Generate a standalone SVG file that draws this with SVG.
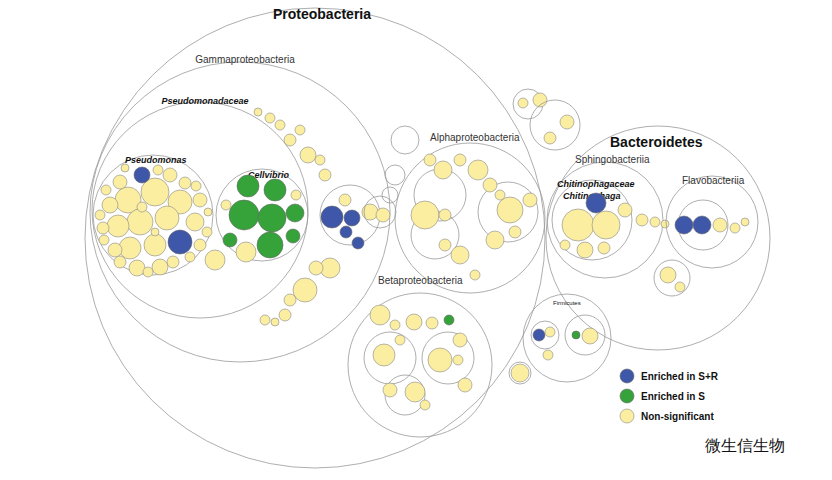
<svg xmlns="http://www.w3.org/2000/svg" width="832" height="480" viewBox="0 0 832 480">
<style>
.o{fill:none;stroke:#999;stroke-width:0.8}
.y{fill:#fbeea0;stroke:#888;stroke-width:0.6}
.b{fill:#3f57a8;stroke:#666;stroke-width:0.6}
.g{fill:#36a23a;stroke:#666;stroke-width:0.6}
.t{font-family:"Liberation Sans",Arial,sans-serif;fill:#111}
.big{font-size:14px;font-weight:bold}
.mid{font-size:10px;fill:#333}
.it{font-size:9px;font-weight:bold;font-style:italic}
</style>
<rect width="832" height="480" fill="#fff"/>
<g id="proteobacteria">
<circle class="o" cx="315" cy="238" r="230"/>
<text class="t big" x="322" y="19" text-anchor="middle">Proteobacteria</text>
</g>
<g id="gammaproteobacteria">
<circle class="o" cx="240" cy="212" r="150"/>
<text class="t mid" x="245" y="63" text-anchor="middle">Gammaproteobacteria</text>
</g>
<g id="pseudomonadaceae">
<circle class="o" cx="200" cy="210" r="108"/>
<text class="t it" x="205" y="104" text-anchor="middle">Pseudomonadaceae</text>
</g>
<g id="pseudomonas">
<circle class="o" cx="153" cy="215" r="60"/>
<text class="t it" x="125" y="163">Pseudomonas</text>
<circle class="y" cx="155" cy="192" r="14"/><circle class="y" cx="128" cy="200" r="13"/><circle class="y" cx="180" cy="202" r="12"/>
<circle class="y" cx="140" cy="222" r="13"/><circle class="y" cx="167" cy="218" r="12"/><circle class="y" cx="118" cy="226" r="11"/>
<circle class="y" cx="130" cy="248" r="11"/><circle class="y" cx="155" cy="245" r="11"/><circle class="y" cx="195" cy="222" r="9"/>
<circle class="y" cx="110" cy="205" r="8"/><circle class="y" cx="160" cy="267" r="8"/><circle class="y" cx="137" cy="268" r="8"/>
<circle class="y" cx="115" cy="250" r="7"/><circle class="y" cx="200" cy="200" r="7"/><circle class="y" cx="170" cy="175" r="7"/>
<circle class="y" cx="120" cy="182" r="7"/><circle class="y" cx="200" cy="245" r="6"/><circle class="y" cx="103" cy="228" r="6"/>
<circle class="y" cx="185" cy="183" r="6"/><circle class="y" cx="196" cy="186" r="5"/><circle class="y" cx="158" cy="170" r="5"/>
<circle class="y" cx="125" cy="168" r="4"/><circle class="y" cx="106" cy="190" r="5"/><circle class="y" cx="100" cy="215" r="5"/>
<circle class="y" cx="104" cy="240" r="5"/><circle class="y" cx="120" cy="262" r="6"/><circle class="y" cx="148" cy="272" r="5"/>
<circle class="y" cx="173" cy="262" r="6"/><circle class="y" cx="190" cy="257" r="5"/><circle class="y" cx="207" cy="232" r="5"/>
<circle class="y" cx="208" cy="212" r="4"/><circle class="y" cx="142" cy="207" r="5"/><circle class="y" cx="155" cy="232" r="4"/>
<circle class="b" cx="142" cy="175" r="8"/><circle class="b" cx="180" cy="242" r="12"/>
</g>
<g id="cellvibrio">
<circle class="o" cx="262" cy="215" r="46"/>
<text class="t it" x="248" y="178">Cellvibrio</text>
<circle class="g" cx="248" cy="186" r="11"/><circle class="g" cx="275" cy="190" r="11"/><circle class="g" cx="244" cy="215" r="15"/>
<circle class="g" cx="272" cy="218" r="14"/><circle class="g" cx="295" cy="213" r="9"/><circle class="g" cx="270" cy="245" r="13"/>
<circle class="g" cx="230" cy="240" r="7"/><circle class="y" cx="246" cy="252" r="10"/><circle class="g" cx="293" cy="236" r="7"/>
<circle class="y" cx="226" cy="205" r="5"/><circle class="y" cx="296" cy="195" r="5"/>
</g>
<g id="gamma-others">
<circle class="y" cx="215" cy="260" r="10"/><circle class="y" cx="305" cy="290" r="12"/><circle class="y" cx="330" cy="268" r="10"/>
<circle class="y" cx="316" cy="268" r="7"/><circle class="y" cx="290" cy="300" r="6"/>
<circle class="y" cx="308" cy="155" r="8"/><circle class="y" cx="290" cy="140" r="6"/><circle class="y" cx="325" cy="175" r="6"/>
<circle class="y" cx="300" cy="130" r="5"/><circle class="y" cx="280" cy="125" r="5"/><circle class="y" cx="320" cy="160" r="5"/>
<circle class="y" cx="285" cy="315" r="6"/><circle class="y" cx="265" cy="320" r="5"/><circle class="y" cx="270" cy="118" r="5"/>
<circle class="y" cx="258" cy="112" r="4"/><circle class="y" cx="275" cy="322" r="4"/>
<circle class="o" cx="350" cy="215" r="30"/>
<circle class="b" cx="332" cy="217" r="11"/><circle class="b" cx="352" cy="218" r="8"/><circle class="b" cx="346" cy="232" r="6"/>
<circle class="b" cx="358" cy="243" r="6"/><circle class="y" cx="370" cy="212" r="8"/><circle class="y" cx="345" cy="200" r="6"/>
<circle class="o" cx="380" cy="212" r="16"/><circle class="y" cx="383" cy="215" r="7"/>
</g>
<g id="alphaproteobacteria">
<circle class="o" cx="470" cy="218" r="75"/>
<text class="t mid" x="430" y="141">Alphaproteobacteria</text>
<circle class="o" cx="440" cy="195" r="26"/><circle class="o" cx="508" cy="212" r="30"/><circle class="o" cx="435" cy="235" r="24"/>
<circle class="y" cx="425" cy="215" r="14"/><circle class="y" cx="510" cy="210" r="13"/><circle class="y" cx="443" cy="170" r="9"/>
<circle class="y" cx="478" cy="170" r="10"/><circle class="y" cx="460" cy="255" r="9"/><circle class="y" cx="495" cy="240" r="9"/>
<circle class="y" cx="530" cy="200" r="7"/><circle class="y" cx="490" cy="185" r="7"/><circle class="y" cx="445" cy="215" r="6"/>
<circle class="y" cx="430" cy="160" r="6"/><circle class="y" cx="460" cy="160" r="6"/><circle class="y" cx="515" cy="232" r="6"/>
<circle class="y" cx="500" cy="195" r="5"/><circle class="y" cx="445" cy="245" r="6"/><circle class="y" cx="475" cy="275" r="5"/>
<circle class="o" cx="405" cy="140" r="14"/><circle class="o" cx="395" cy="175" r="10"/><circle class="o" cx="390" cy="195" r="8"/>
</g>
<g id="betaproteobacteria">
<circle class="o" cx="420" cy="365" r="72"/>
<text class="t mid" x="378" y="284">Betaproteobacteria</text>
<circle class="o" cx="390" cy="358" r="26"/><circle class="o" cx="448" cy="358" r="26"/><circle class="o" cx="405" cy="395" r="20"/>
<circle class="y" cx="380" cy="315" r="10"/><circle class="y" cx="414" cy="322" r="8"/><circle class="y" cx="384" cy="355" r="11"/>
<circle class="y" cx="440" cy="360" r="12"/><circle class="y" cx="415" cy="392" r="10"/><circle class="y" cx="460" cy="340" r="7"/>
<circle class="y" cx="390" cy="390" r="7"/><circle class="y" cx="432" cy="323" r="6"/><circle class="g" cx="449" cy="320" r="5"/>
<circle class="y" cx="465" cy="385" r="7"/><circle class="y" cx="400" cy="340" r="5"/><circle class="y" cx="458" cy="360" r="5"/>
<circle class="y" cx="395" cy="325" r="5"/><circle class="y" cx="425" cy="405" r="5"/>
</g>
<g id="top-middle">
<circle class="o" cx="528" cy="104" r="15"/><circle class="y" cx="540" cy="100" r="7"/><circle class="y" cx="523" cy="103" r="5"/>
<circle class="o" cx="555" cy="125" r="25"/><circle class="y" cx="567" cy="122" r="7"/><circle class="y" cx="550" cy="138" r="6"/>
<circle class="o" cx="520" cy="373" r="11"/><circle class="y" cx="520" cy="373" r="9"/>
</g>
<g id="bacteroidetes">
<circle class="o" cx="658" cy="238" r="112"/>
<text class="t big" x="610" y="147">Bacteroidetes</text>
</g>
<g id="sphingobacteriia">
<circle class="o" cx="605" cy="220" r="58"/>
<text class="t mid" x="575" y="163">Sphingobacteriia</text>
<circle class="o" cx="592" cy="220" r="40"/>
<text class="t it" x="557" y="187">Chitinophagaceae</text>
<text class="t it" x="563" y="199">Chitinophaga</text>
<circle class="y" cx="578" cy="225" r="16"/><circle class="y" cx="606" cy="225" r="14"/><circle class="b" cx="596" cy="203" r="10"/>
<circle class="y" cx="585" cy="250" r="8"/><circle class="y" cx="625" cy="210" r="7"/><circle class="y" cx="642" cy="220" r="6"/>
<circle class="y" cx="655" cy="222" r="5"/><circle class="y" cx="665" cy="224" r="4"/>
<circle class="y" cx="604" cy="248" r="6"/><circle class="y" cx="565" cy="245" r="5"/>
</g>
<g id="flavobacteriia">
<circle class="o" cx="712" cy="222" r="46"/>
<text class="t mid" x="682" y="184">Flavobacteriia</text>
<circle class="o" cx="703" cy="225" r="25"/>
<circle class="b" cx="684" cy="225" r="9"/><circle class="b" cx="702" cy="225" r="9"/><circle class="y" cx="720" cy="225" r="7"/>
<circle class="y" cx="735" cy="228" r="5"/><circle class="y" cx="745" cy="222" r="4"/>
<circle class="o" cx="672" cy="278" r="18"/><circle class="y" cx="668" cy="275" r="8"/><circle class="y" cx="680" cy="287" r="5"/>
</g>
<g id="firmicutes">
<circle class="o" cx="567" cy="338" r="44"/>
<text class="t" x="553" y="305" font-size="6">Firmicutes</text>
<circle class="o" cx="545" cy="335" r="14"/><circle class="o" cx="585" cy="335" r="20"/>
<circle class="b" cx="539" cy="335" r="6"/><circle class="y" cx="550" cy="332" r="5"/><circle class="g" cx="576" cy="335" r="4"/>
<circle class="y" cx="590" cy="336" r="8"/><circle class="y" cx="548" cy="355" r="5"/>
</g>
<g id="legend">
<circle class="b" cx="627" cy="376" r="7"/><text class="t" x="641" y="380" font-size="10" font-weight="bold">Enriched in S+R</text>
<circle class="g" cx="627" cy="396" r="7"/><text class="t" x="641" y="400" font-size="10" font-weight="bold">Enriched in S</text>
<circle class="y" cx="627" cy="416" r="7"/><text class="t" x="641" y="420" font-size="10" font-weight="bold">Non-significant</text>
</g>
<g id="watermark">
<text class="t" x="705" y="451" font-size="16" fill="#555" font-family="'Noto Sans CJK SC',sans-serif">微生信生物</text>
</g>
<g id="connectors"></g>
</svg>
